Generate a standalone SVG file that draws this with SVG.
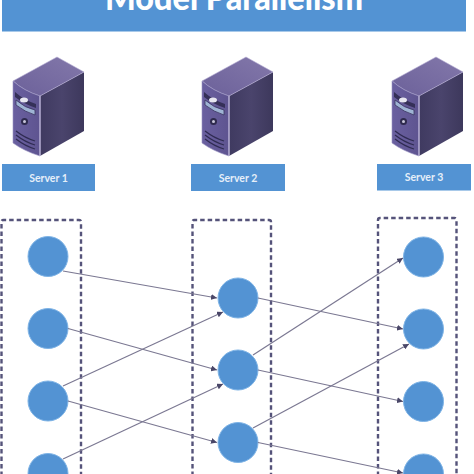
<svg xmlns="http://www.w3.org/2000/svg" width="474" height="474" viewBox="0 0 474 474">
<style>
.bar{fill:#5393d3}
.title{font:900 34px "Lato","Liberation Sans",sans-serif;fill:#fff;text-anchor:middle}
.lab{font:bold 10.500px "Lato","Liberation Sans",sans-serif;fill:#e6eff9;text-anchor:middle}
.zone{fill:none;stroke:#55537a;stroke-width:2.400;stroke-dasharray:4.500 3}
.n{fill:#5393d3;stroke:#7fb4e6;stroke-width:1}
.c{stroke:#7b7892;stroke-width:1.200;fill:none;marker-end:url(#a)}
</style>
<defs>
<marker id="a" viewBox="0 0 6 6" refX="6" refY="3" markerWidth="6" markerHeight="6" markerUnits="userSpaceOnUse" orient="auto"><path d="M0 0L6 3L0 6Z" fill="#4a4768"/></marker>
<linearGradient id="side" x1="0" x2="1" y1="0" y2="0"><stop offset="0" stop-color="#3f3a60"/><stop offset=".5" stop-color="#4a446c"/><stop offset="1" stop-color="#3d385c"/></linearGradient>
<linearGradient id="top" x1="0" x2="1" y1="1" y2="0"><stop offset="0" stop-color="#6c619a"/><stop offset="1" stop-color="#8378aa"/></linearGradient>
<linearGradient id="front" x1="0" x2="1" y1="0" y2="0"><stop offset="0" stop-color="#6a60a0"/><stop offset="1" stop-color="#5e5490"/></linearGradient>
<g id="srv">
<path d="M40 96L84 72V131L40 156Z" fill="url(#side)"/>
<path d="M13 81Q24 91 40 96L84 72L57 57Z" fill="url(#top)" stroke="#b5add3" stroke-width=".6"/>
<path d="M13 81Q24 91 40 96V156Q24 151 13 143Z" fill="url(#front)" stroke="#9c95c2" stroke-width=".6"/>
<path d="M40 96V156" stroke="#c4bde0" stroke-width="1.200"/>
<path d="M15 92Q24 100 36 104V108Q24 104 15 97Z" fill="#353058"/>
<path d="M16 100Q25 108 35 110V115Q25 112 16 105Z" fill="#9fb4d4" stroke="#3a3560" stroke-width=".8"/>
<ellipse cx="24" cy="100" rx="4" ry="2.500" fill="#e6e6f0"/>
<circle cx="24.500" cy="121.500" r="3.500" fill="#2f2b4e"/><circle cx="24.500" cy="121.500" r="1.500" fill="#c9c6da"/>
<path d="M16 131Q25 138 35 141M16 135Q25 142 35 145M16 139Q25 146 35 149" fill="none" stroke="#2f2b52" stroke-width="1.300"/>
</g>
</defs>
<rect width="474" height="474" fill="#fff"/>
<g id="title"><rect class="bar" x="2" y="-2" width="464" height="33.500"/><text class="title" x="234" y="10" textLength="258" lengthAdjust="spacingAndGlyphs">Model Parallelism</text></g>
<g id="server1"><use href="#srv"/><rect class="bar" x="2" y="164" width="93" height="27"/><text class="lab" x="48.500" y="181.500">Server 1</text></g>
<g id="server2"><use href="#srv" x="189"/><rect class="bar" x="191" y="164" width="94" height="27"/><text class="lab" x="238" y="181.500">Server 2</text></g>
<g id="server3"><use href="#srv" x="379"/><rect class="bar" x="377" y="164" width="94" height="26.500"/><text class="lab" x="424" y="180.500">Server 3</text></g>
<g id="zone1"><path class="zone" d="M1.500 476V222Q1.500 220 3.500 220H79Q81 220 81 222V476"/></g>
<g id="zone2"><path class="zone" d="M192.500 476V222Q192.500 220 194.500 220H269Q271 220 271 222V476"/></g>
<g id="zone3"><path class="zone" d="M378 476V220Q378 218 380 218H454.500Q456.500 218 456.500 220V476"/></g>
<g id="nodes">
<circle id="a1" class="n" cx="48" cy="256.500" r="20"/><circle id="a2" class="n" cx="48" cy="328.500" r="20"/><circle id="a3" class="n" cx="48" cy="401" r="20"/><circle id="a4" class="n" cx="48" cy="473.500" r="20"/>
<circle id="b1" class="n" cx="238" cy="298" r="20"/><circle id="b2" class="n" cx="238" cy="370" r="20"/><circle id="b3" class="n" cx="238" cy="442.500" r="20"/>
<circle id="c1" class="n" cx="423.500" cy="257" r="20"/><circle id="c2" class="n" cx="423.500" cy="329" r="20"/><circle id="c3" class="n" cx="423.500" cy="401.500" r="20"/><circle id="c4" class="n" cx="423.500" cy="474" r="20"/>
</g>
<g id="connectors">
<path class="c" d="M63 271L217 298"/>
<path class="c" d="M68 328.500L217 370"/>
<path class="c" d="M63 386L223 312"/>
<path class="c" d="M68 401L217 442.500"/>
<path class="c" d="M63 459L223 384"/>
<path class="c" d="M258 298L403 329"/>
<path class="c" d="M253 355L403 258"/>
<path class="c" d="M258 370L403 401.500"/>
<path class="c" d="M253 428L409 344"/>
<path class="c" d="M258 442.500L403 473"/>
</g>
</svg>
